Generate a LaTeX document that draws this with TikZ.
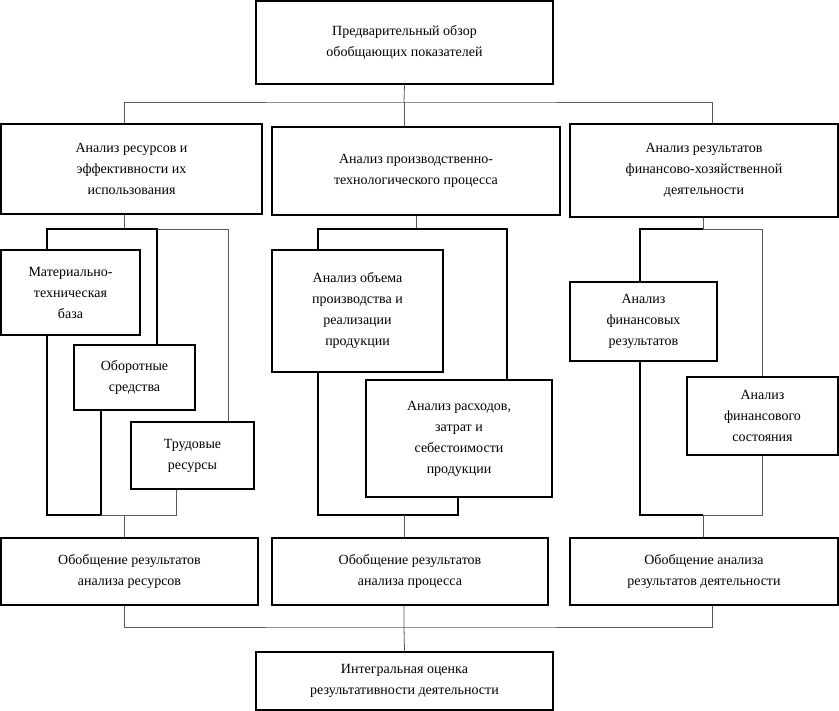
\documentclass[tikz,border=0pt]{standalone}
\usepackage{fontspec}
\setmainfont{Liberation Serif}
\begin{document}
\begin{tikzpicture}[x=1pt,y=-1pt,
  bx/.style={draw,line width=1.4pt,align=center,inner sep=0pt,font=\fontsize{14}{21}\selectfont},
  ln/.style={line width=1.4pt},
  tl/.style={line width=0.8pt,gray!70!black}]
\useasboundingbox (0,0) rectangle (839,711);
\newcommand\bxat[6]{\node[bx,minimum width=#4-#2,minimum height=#5-#3] (#1) at ({(#2+#4)/2},{(#3+#5)/2}) {#6};}
\bxat{top}{256}{1}{553}{84}{Предварительный обзор\\обобщающих показателей}
\bxat{L}{1}{124}{262}{214}{Анализ ресурсов и\\эффективности их\\использования}
\bxat{M}{272}{127}{560}{215}{Анализ производственно-\\технологического процесса}
\bxat{R}{570}{124}{838}{217}{Анализ результатов\\финансово-хозяйственной\\деятельности}
\bxat{L1}{1}{250}{140}{335}{Материально-\\техническая\\база}
\bxat{L2}{74}{345}{195}{410}{Оборотные\\средства}
\bxat{L3}{131}{422}{254}{489}{Трудовые\\ресурсы}
\bxat{M1}{272}{250}{443}{372}{Анализ объема\\производства и\\реализации\\продукции}
\bxat{M2}{366}{380}{552}{497}{Анализ расходов,\\затрат и\\себестоимости\\продукции}
\bxat{R1}{570}{282}{717}{361}{Анализ\\финансовых\\результатов}
\bxat{R2}{687}{377}{838}{455}{Анализ\\финансового\\состояния}
\bxat{LB}{1}{538}{258}{605}{Обобщение результатов\\анализа ресурсов}
\bxat{MB}{272}{538}{548}{605}{Обобщение результатов\\анализа процесса}
\bxat{RB}{570}{538}{838}{605}{Обобщение анализа\\результатов деятельности}
\bxat{fin}{256}{652}{553}{710}{Интегральная оценка\\результативности деятельности}
% top bus
\coordinate (tb) at (404,102);
\draw[tl] (top.south) -- (tb);
\draw[tl] (L.north -| 124,0) |- (tb) -| (R.north -| 712,0);
\draw[tl] (tb) -- (M.north -| 404,0);
% left column
\draw[tl] (L.south -| 124,0) -- (124,229);
\draw[ln] (L1.north -| 47,0) |- (157,229) -- (L2.north -| 157,0);
\draw[tl] (157,229) -| (L3.north -| 228,0);
\draw[ln] (L1.south -| 47,0) |- (101,515) -- (L2.south -| 101,0);
\draw[tl] (101,515) -| (L3.south -| 176,0);
\draw[tl] (124,515) -- (LB.north -| 124,0);
% middle column
\draw[tl] (M.south -| 416,0) -- (416,229);
\draw[ln] (M1.north -| 318,0) |- (507,229) -- (M2.north -| 507,0);
\draw[ln] (M1.south -| 318,0) |- (458,515) -- (M2.south -| 458,0);
\draw[tl] (404,515) -- (MB.north -| 404,0);
% right column
\draw[tl] (R.south -| 703,0) -- (703,229);
\draw[ln] (R1.north -| 640,0) |- (703,229);
\draw[tl] (703,229) -| (R2.north -| 762,0);
\draw[ln] (R1.south -| 640,0) |- (703,515);
\draw[tl] (703,515) -| (R2.south -| 762,0);
\draw[tl] (703,515) -- (RB.north -| 703,0);
% bottom bus
\coordinate (bb) at (404,627);
\draw[tl] (LB.south -| 124,0) |- (bb) -| (RB.south -| 712,0);
\draw[tl] (MB.south -| 404,0) -- (bb) -- (fin.north);
\end{tikzpicture}
\end{document}
